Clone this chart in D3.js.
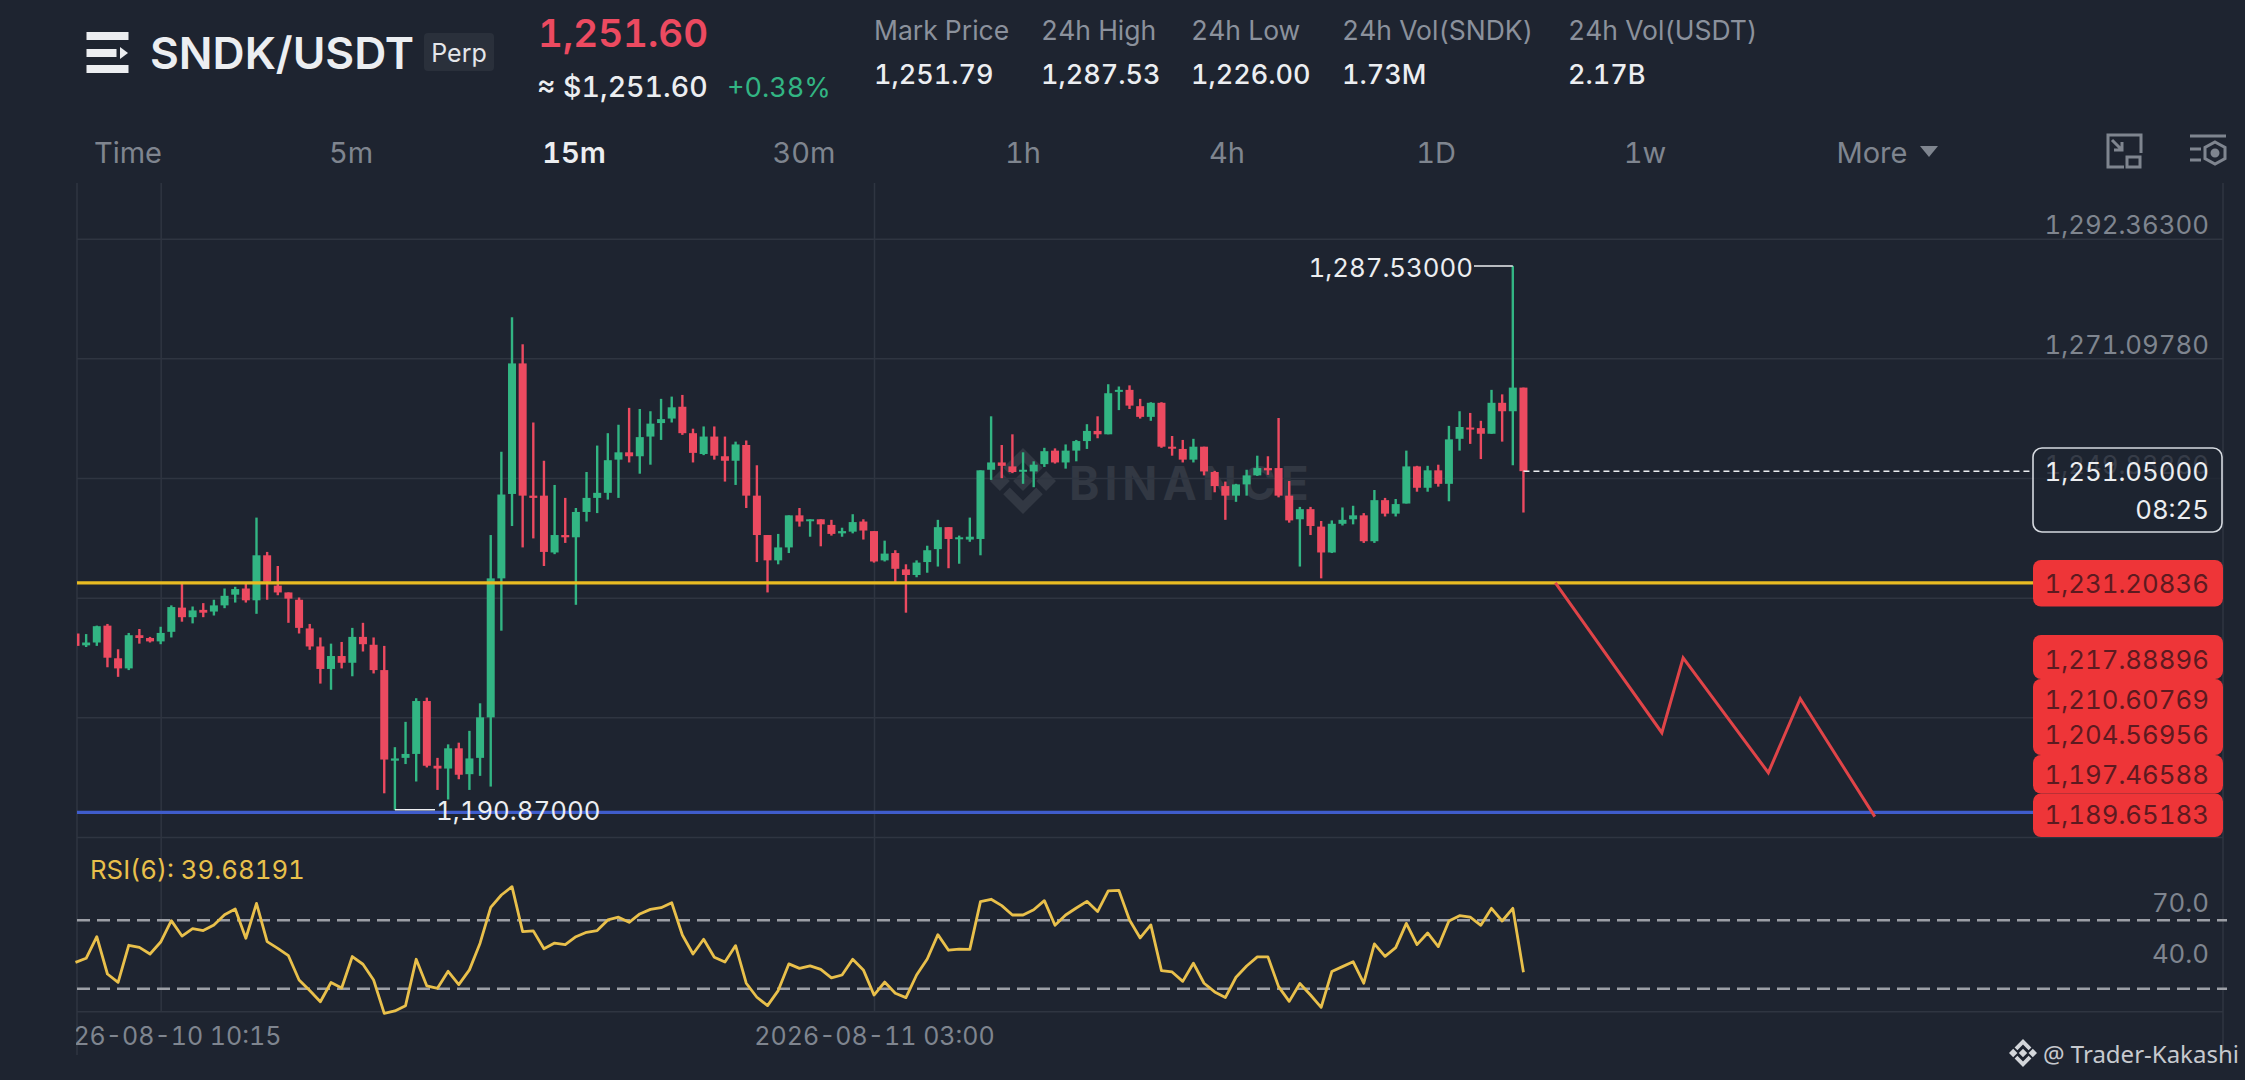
<!DOCTYPE html>
<html>
<head>
    <meta charset="UTF-8">
    <title>SNDK/USDT Perp</title>
    <style>
        html, body { margin: 0; padding: 0; background: #1e2430; }
        svg { display: block; }
        text { font-family: Inter, "Noto Sans", sans-serif; font-variant-numeric: tabular-nums; }
        .axis path.domain { display: none; }
    </style>
</head>
<body>
<script src="https://cdn.jsdelivr.net/npm/d3@7"></script>
<script>
    // 15m candles
    var opens = [
        1222.2,1220.1,1220.6,1223.6,1217.8,1216.0,1221.9,1221.4,1220.8,1222.5,
        1226.8,1225.1,1226.4,1226.1,1227.2,1229.1,1230.2,1228.1,1236.1,1230.7,
        1229.5,1228.2,1223.1,1219.9,1215.9,1218.2,1217.0,1221.6,1220.2,1215.7,
        1199.6,1200.1,1200.8,1210.2,1198.7,1198.2,1201.8,1197.2,1200.1,1207.3,
        1232.0,1247.0,1270.2,1246.7,1246.7,1236.6,1239.7,1239.3,1243.8,1246.3,
        1247.2,1253.1,1254.4,1253.7,1257.2,1259.6,1260.4,1262.5,1257.8,1254.1,
        1257.2,1253.7,1252.9,1255.7,1246.7,1239.7,1235.2,1237.5,1243.2,1242.3,
        1242.5,1241.5,1240.0,1240.3,1242.1,1240.4,1235.2,1236.5,1233.6,1232.6,
        1234.9,1237.2,1241.1,1239.0,1238.9,1239.0,1251.3,1252.6,1251.9,1251.1,
        1251.0,1252.3,1254.7,1252.6,1254.7,1256.4,1258.2,1257.6,1265.2,1265.5,
        1262.6,1260.7,1263.2,1255.4,1255.0,1253.1,1255.4,1250.9,1248.4,1246.7,
        1248.7,1250.3,1251.6,1251.6,1246.7,1242.5,1244.3,1241.2,1236.6,1241.7,
        1242.5,1243.2,1238.6,1245.9,1243.5,1245.3,1251.9,1248.1,1251.2,1248.8,
        1256.8,1258.8,1258.7,1257.7,1263.2,1261.7,1265.9
    ];
    var highs = [
        1222.2,1222.1,1223.6,1223.9,1219.4,1222.3,1223.0,1221.6,1223.4,1227.2,
        1231.1,1227.0,1227.6,1228.2,1230.2,1230.5,1231.0,1242.8,1236.7,1234.2,
        1229.5,1228.6,1223.9,1221.5,1220.4,1220.7,1223.2,1224.1,1221.5,1220.0,
        1202.0,1206.5,1210.7,1210.8,1200.1,1202.5,1202.8,1204.9,1209.8,1239.7,
        1254.5,1278.4,1273.6,1259.7,1252.9,1248.6,1246.3,1244.5,1250.9,1255.6,
        1257.8,1259.3,1262.3,1262.1,1261.7,1263.9,1264.3,1264.6,1258.6,1259.0,
        1259.0,1257.2,1256.3,1256.5,1252.1,1239.7,1239.9,1243.2,1244.5,1242.5,
        1242.5,1242.4,1241.0,1243.4,1242.5,1240.4,1238.7,1237.0,1234.5,1235.2,
        1237.8,1242.4,1241.1,1239.6,1242.8,1251.2,1260.8,1255.7,1257.6,1254.4,
        1252.8,1255.2,1255.1,1255.8,1256.6,1259.4,1260.8,1266.5,1266.1,1266.3,
        1263.9,1263.3,1263.3,1257.3,1256.6,1256.8,1255.4,1251.1,1249.2,1248.8,
        1251.3,1253.8,1253.7,1260.5,1249.3,1244.7,1244.7,1242.2,1242.3,1244.6,
        1244.9,1243.6,1247.7,1246.3,1246.1,1254.7,1252.0,1252.0,1252.2,1259.1,
        1261.7,1261.4,1260.0,1265.5,1264.7,1287.53,1265.9
    ];
    var lows = [
        1220.0,1219.8,1220.0,1216.2,1214.5,1215.7,1220.4,1220.6,1220.3,1221.5,
        1224.3,1224.0,1225.1,1225.4,1226.7,1227.7,1227.7,1225.7,1228.2,1229.0,
        1224.1,1222.2,1219.3,1213.3,1212.2,1216.0,1214.6,1219.0,1215.1,1193.8,
        1190.87,1199.0,1195.9,1198.4,1194.4,1192.7,1196.3,1194.4,1196.9,1195.0,
        1222.7,1241.3,1237.5,1239.1,1234.2,1236.3,1238.3,1227.3,1242.1,1243.6,
        1246.0,1246.3,1252.6,1250.6,1252.2,1256.6,1259.7,1257.5,1252.6,1253.9,
        1253.1,1249.2,1248.6,1244.5,1234.9,1229.5,1234.5,1236.5,1241.2,1239.4,
        1237.7,1239.6,1239.4,1240.0,1238.9,1234.8,1235.0,1231.3,1225.9,1232.2,
        1233.0,1234.1,1233.8,1234.6,1238.5,1236.1,1249.5,1249.8,1250.7,1248.8,
        1248.2,1251.8,1252.4,1251.5,1252.8,1255.0,1256.9,1257.6,1261.9,1262.1,
        1260.4,1260.0,1255.2,1253.8,1252.6,1252.6,1250.3,1247.3,1242.4,1245.6,
        1246.7,1250.2,1250.4,1246.4,1241.9,1234.1,1239.7,1232.0,1236.5,1241.4,
        1241.6,1238.3,1238.3,1243.0,1243.0,1245.3,1247.4,1247.4,1248.3,1245.7,
        1254.7,1255.9,1253.2,1257.7,1256.3,1252.1,1243.7
    ];
    var closes = [
        1220.0,1220.6,1223.5,1217.9,1216.0,1221.9,1221.4,1220.8,1222.3,1226.9,
        1225.1,1226.3,1225.9,1227.2,1228.9,1230.1,1228.1,1236.1,1231.4,1229.5,
        1228.4,1223.2,1219.9,1215.9,1218.2,1217.0,1221.6,1220.3,1215.7,1199.8,
        1200.0,1200.8,1210.2,1198.7,1198.2,1201.8,1197.1,1200.0,1207.3,1232.0,
        1246.9,1270.2,1246.7,1246.3,1236.7,1239.7,1239.3,1243.8,1246.3,1247.2,
        1253.0,1254.4,1253.7,1257.1,1259.5,1260.3,1262.4,1257.8,1254.3,1257.2,
        1253.8,1252.9,1255.8,1246.7,1239.7,1235.2,1237.5,1243.2,1242.1,1242.5,
        1241.6,1239.9,1240.4,1242.0,1240.5,1235.0,1236.4,1233.7,1232.6,1234.8,
        1237.0,1241.1,1239.0,1239.3,1239.4,1251.2,1252.6,1252.0,1250.9,1251.3,
        1252.2,1254.6,1252.6,1254.7,1256.4,1258.2,1257.6,1264.9,1265.5,1262.7,
        1260.7,1263.2,1255.4,1255.1,1253.1,1255.4,1251.0,1248.4,1246.7,1248.7,
        1250.3,1251.6,1251.2,1246.7,1242.3,1244.3,1241.3,1236.6,1241.7,1242.4,
        1243.2,1238.6,1245.9,1243.5,1245.2,1251.9,1248.1,1251.2,1248.8,1256.7,
        1258.9,1258.5,1257.7,1263.2,1261.7,1265.9,1251.05
    ];
    var rsi = [
        45.4,47.8,60.4,38.6,33.7,55.4,54.2,50.3,57.3,69.8,
        60.8,65.1,64.0,67.3,73.3,76.6,59.5,79.9,57.5,53.6,
        49.3,35.1,28.9,22.4,33.6,30.4,48.8,44.3,35.1,15.6,
        17.0,20.1,47.2,31.6,30.2,40.2,32.4,41.0,56.6,77.6,
        84.8,89.7,63.4,63.8,53.4,56.7,55.8,60.4,63.0,64.0,
        70.2,71.8,68.8,73.7,76.4,77.4,80.3,61.4,50.3,58.9,
        48.4,45.6,55.2,33.2,25.0,20.1,28.9,44.5,41.9,43.3,
        41.3,36.3,38.0,47.2,41.0,26.3,33.9,27.3,24.8,38.0,
        47.4,61.6,52.5,53.2,53.0,80.9,82.3,78.6,73.1,73.1,
        76.2,81.5,67.1,73.1,77.2,81.1,75.1,87.2,87.5,70.2,
        59.7,67.3,40.6,39.8,34.3,44.9,33.2,28.1,24.8,36.7,
        43.3,48.6,48.6,31.2,22.6,33.0,26.3,19.1,40.0,42.9,
        45.8,33.2,56.2,48.9,54.0,68.2,55.8,62.6,54.6,69.6,
        72.7,71.8,67.1,77.0,69.6,77.0,39.68
    ];

    var priceTicks = [1292.363, 1271.0978, 1249.8326, 1228.5674, 1207.3022, 1186.037];
    var timeTicks = [8, 75];
    var timeLabels = ["2026-08-10 10:15", "2026-08-11 03:00"];
    var rsiTicks = [70, 40];
    var rsiBands = [70, 30];

    // drawn levels and the hand drawn path
    var yellowLevel = 1231.20836;
    var blueLevel = 1190.43;
    var pathBars = [139, 149, 151, 159, 162, 169];
    var pathPrices = [1231.20836, 1204.56956, 1217.88896, 1197.46588, 1210.60769, 1189.65183];
    var priceTags = ["1,231.20836", "1,217.88896", "1,210.60769", "1,204.56956", "1,197.46588", "1,189.65183"];

    var highBar = 135, highPrice = 1287.53, lowBar = 30, lowPrice = 1190.87, lastBar = 136, lastPrice = 1251.05;

    var statNames = ["Mark Price", "24h High", "24h Low", "24h Vol(SNDK)", "24h Vol(USDT)"];
    var statValues = ["1,251.79", "1,287.53", "1,226.00", "1.73M", "2.17B"];
    var intervals = ["Time", "5m", "15m", "30m", "1h", "4h", "1D", "1w", "More"];

    var width = 2245, height = 1080;
    var left = 77, right = 2223, top_ = 183, frameBottom = 1055, rsiBottom = 1011.7;
    var axisFont = 25.8;

    var C = {
        bg: "#1e2430", grid: "#2f3541", up: "#32b583", down: "#ec4a60", dim: "#8b919c", axis: "#7f858f",
        white: "#eceef1", yellow: "#e8bb22", blue: "#3f5ccb", rsi: "#e9c04b", tag: "#ee3538", tagText: "#5d1a20",
        mark: "#323843", path: "#e04448"
    };

    var x = d3.scaleLinear().domain([8, 75]).range([160.67, 874]);
    var y = d3.scaleLinear().domain([1186.037, 1292.363]).range([837, 238.7]);
    var yRsi = d3.scaleLinear().domain([70, 30]).range([920.3, 988.7]);

    var svg = d3.select("body").append("svg")
        .attr("width", width)
        .attr("height", height)
        .style("background", C.bg);

    var defs = svg.append("defs");
    defs.append("clipPath").attr("id", "plot")
        .append("rect").attr("x", left).attr("y", top_).attr("width", right - left).attr("height", frameBottom - top_);

    function label(parent, str, px, py, size, color, weight, anchor) {
        return parent.append("text")
            .attr("x", px).attr("y", py)
            .attr("font-size", size)
            .attr("fill", color)
            .attr("font-weight", weight || 400)
            .attr("text-anchor", anchor || "start")
            .text(str);
    }

    // binance diamond mark, r is half its height
    function binanceLogo(parent, cx, cy, r, color) {
        var k = r / 10;
        var d = [
            "M0,-3 L3,0 L0,3 L-3,0 Z",
            "M-7,-3 L-4,0 L-7,3 L-10,0 Z",
            "M7,-3 L10,0 L7,3 L4,0 Z",
            "M0,-10 L6,-4 L4,-2 L0,-6 L-4,-2 L-6,-4 Z",
            "M0,10 L6,4 L4,2 L0,6 L-4,2 L-6,4 Z"
        ].join(" ");
        parent.append("path")
            .attr("transform", "translate(" + cx + "," + cy + ") scale(" + k + ")")
            .attr("d", d)
            .attr("fill", color);
    }

    // header
    var head = svg.append("g");
    head.selectAll("rect.bar").data([32, 49, 65]).enter().append("rect")
        .attr("x", 86.5)
        .attr("y", function(d) { return d; })
        .attr("width", function(d, i) { return i === 1 ? 30 : 42; })
        .attr("height", 8)
        .attr("fill", C.white);
    head.append("path").attr("d", "M120,47 L128,53 L120,59 Z").attr("fill", C.white);

    label(head, "SNDK/USDT", 150, 69, 44.4, C.white, 600);
    head.append("rect").attr("x", 424).attr("y", 33).attr("width", 70).attr("height", 38).attr("rx", 4).attr("fill", "#2a303b");
    label(head, "Perp", 459, 62, 25, "#e4e6ea", 400, "middle");
    label(head, "1,251.60", 538, 47, 38.5, C.down, 600);
    label(head, "≈ $1,251.60", 537, 97, 28.5, C.white, 500);
    label(head, "+0.38%", 727, 97, 27, C.up, 400);

    var statX = [874, 1041, 1191, 1342, 1568];
    head.selectAll("text.name").data(statNames).enter().append("text")
        .attr("class", "name")
        .attr("x", function(d, i) { return statX[i]; })
        .attr("y", 40)
        .attr("font-size", 26.5)
        .attr("fill", C.dim)
        .text(function(d) { return d; });
    head.selectAll("text.val").data(statValues).enter().append("text")
        .attr("class", "val")
        .attr("x", function(d, i) { return statX[i]; })
        .attr("y", 84)
        .attr("font-size", 27)
        .attr("font-weight", 500)
        .attr("fill", C.white)
        .text(function(d) { return d; });

    var intervalX = [128, 351, 574, 804, 1023, 1227, 1436, 1645, 1872];
    head.selectAll("text.iv").data(intervals).enter().append("text")
        .attr("class", "iv")
        .attr("x", function(d, i) { return intervalX[i]; })
        .attr("y", 163)
        .attr("text-anchor", "middle")
        .attr("font-size", 29)
        .attr("font-weight", function(d) { return d === "15m" ? 600 : 400; })
        .attr("fill", function(d) { return d === "15m" ? C.white : C.axis; })
        .text(function(d) { return d; });
    head.append("path").attr("d", "M1920,146 L1938,146 L1929,157 Z").attr("fill", C.axis);

    // toolbar icons
    var icons = head.append("g").attr("fill", "none").attr("stroke", C.axis).attr("stroke-width", 3);
    icons.append("path").attr("d", "M2124,167 L2108,167 L2108,135 L2141,135 L2141,153");
    icons.append("rect").attr("x", 2127).attr("y", 157).attr("width", 13).attr("height", 10);
    icons.append("path").attr("d", "M2112,140 L2122,150 M2122,142 L2122,150 L2114,150");
    icons.append("path").attr("d", "M2190,136 L2226,136 M2190,149 L2201,149 M2190,160 L2201,160");
    icons.append("path").attr("d", "M2215,142 L2225,147.5 L2225,158.5 L2215,164 L2205,158.5 L2205,147.5 Z");
    icons.append("circle").attr("cx", 2215).attr("cy", 153).attr("r", 3).attr("fill", C.axis);

    // watermark sits under everything in the plot
    binanceLogo(svg, 1023, 481, 33, C.mark);
    label(svg, "BINANCE", 1069, 500, 46, C.mark, 700).attr("letter-spacing", 5);

    // frame
    svg.selectAll("line.frame").data([left, right]).enter().append("line")
        .attr("class", "frame")
        .attr("x1", function(d) { return d; }).attr("x2", function(d) { return d; })
        .attr("y1", top_).attr("y2", frameBottom)
        .attr("stroke", C.grid).attr("stroke-width", 1.5);
    svg.append("line")
        .attr("x1", left).attr("x2", right).attr("y1", rsiBottom).attr("y2", rsiBottom)
        .attr("stroke", C.grid).attr("stroke-width", 1.5);

    // price axis, labels sit just above their grid line
    var yAxis = d3.axisRight(y)
        .tickValues(priceTicks)
        .tickSize(-(right - left))
        .tickFormat(d3.format(",.5f"));
    var yG = svg.append("g")
        .attr("class", "y axis")
        .attr("transform", "translate(" + right + ",0)")
        .call(yAxis);
    yG.selectAll(".tick line").attr("stroke", C.grid).attr("stroke-width", 1.5);
    yG.selectAll(".tick text")
        .attr("x", -14).attr("dy", -5)
        .attr("text-anchor", "end")
        .attr("font-size", axisFont)
        .attr("fill", C.axis);
    // lower three labels are fully covered by the tags in the picture
    yG.selectAll(".tick text").filter(function(d) { return d < 1240; }).remove();

    // time axis, first label is cut by the frame
    defs.append("clipPath").attr("id", "timeClip")
        .append("rect").attr("x", left - 1).attr("y", 0).attr("width", right - left).attr("height", height);
    var xAxis = d3.axisBottom(x)
        .tickValues(timeTicks)
        .tickSize(-(rsiBottom - top_))
        .tickFormat(function(d, i) { return timeLabels[i]; });
    var xG = svg.append("g")
        .attr("class", "x axis")
        .attr("clip-path", "url(#timeClip)")
        .append("g")
        .attr("transform", "translate(0," + rsiBottom + ")")
        .call(xAxis);
    xG.selectAll(".tick line").attr("stroke", C.grid).attr("stroke-width", 1.5);
    xG.selectAll(".tick text")
        .attr("y", 33).attr("dy", 0)
        .attr("font-size", 25)
        .attr("fill", C.axis);

    // candles
    var candles = d3.range(opens.length).map(function(i) {
        return {i: i, o: opens[i], h: highs[i], l: lows[i], c: closes[i]};
    });
    var plot = svg.append("g").attr("clip-path", "url(#plot)");
    var bars = plot.selectAll("g.candle").data(candles).enter().append("g").attr("class", "candle");
    function candleColor(d) { return d.c >= d.o ? C.up : C.down; }
    bars.append("line")
        .attr("x1", function(d) { return x(d.i); })
        .attr("x2", function(d) { return x(d.i); })
        .attr("y1", function(d) { return y(d.h); })
        .attr("y2", function(d) { return y(d.l); })
        .attr("stroke", candleColor)
        .attr("stroke-width", 2.4);
    bars.append("rect")
        .attr("x", function(d) { return x(d.i) - 4; })
        .attr("y", function(d) { return y(Math.max(d.o, d.c)); })
        .attr("width", 8)
        .attr("height", function(d) { return Math.max(2, Math.abs(y(d.o) - y(d.c))); })
        .attr("fill", candleColor);

    // levels
    var tagLeft = 2033;
    svg.append("line")
        .attr("x1", left).attr("x2", tagLeft).attr("y1", y(yellowLevel)).attr("y2", y(yellowLevel))
        .attr("stroke", C.yellow).attr("stroke-width", 3.2);
    svg.append("line")
        .attr("x1", left).attr("x2", tagLeft).attr("y1", y(blueLevel)).attr("y2", y(blueLevel))
        .attr("stroke", C.blue).attr("stroke-width", 3.2);

    var pathLine = d3.line()
        .x(function(d) { return x(d[0]); })
        .y(function(d) { return y(d[1]); });
    svg.append("path")
        .datum(d3.zip(pathBars, pathPrices))
        .attr("d", pathLine)
        .attr("fill", "none")
        .attr("stroke", C.path)
        .attr("stroke-width", 3);

    // high and low callouts
    svg.append("path")
        .attr("d", "M" + x(highBar) + "," + y(highPrice) + " H1474")
        .attr("fill", "none").attr("stroke", C.white).attr("stroke-width", 1.5);
    label(svg, "1,287.53000", 1473, 277, axisFont, C.white, 400, "end");
    svg.append("path")
        .attr("d", "M" + x(lowBar) + "," + y(lowPrice) + " H435")
        .attr("fill", "none").attr("stroke", C.white).attr("stroke-width", 1.5);
    label(svg, "1,190.87000", 436, 820, axisFont, C.white, 400);

    // current price, box is see-through so the tick label behind shows faintly
    svg.append("line")
        .attr("x1", x(lastBar)).attr("x2", tagLeft).attr("y1", y(lastPrice)).attr("y2", y(lastPrice))
        .attr("stroke", C.white).attr("stroke-width", 1.5).attr("stroke-dasharray", "6,4");
    svg.append("rect")
        .attr("x", tagLeft).attr("y", 448).attr("width", 189).attr("height", 84).attr("rx", 9)
        .attr("fill", C.bg).attr("fill-opacity", 0.75)
        .attr("stroke", "#d5d9df").attr("stroke-width", 1.6);
    label(svg, "1,251.05000", 2209, 481, axisFont, C.white, 400, "end");
    label(svg, "08:25", 2209, 519, axisFont, C.white, 400, "end");

    // red price tags
    var tagBoxes = [[560, 606.5], [635, 679], [679, 755], [755, 793.5], [793.5, 837]];
    svg.selectAll("rect.tag").data(tagBoxes).enter().append("rect")
        .attr("class", "tag")
        .attr("x", tagLeft).attr("y", function(d) { return d[0]; })
        .attr("width", 190).attr("height", function(d) { return d[1] - d[0]; })
        .attr("rx", 8)
        .attr("fill", C.tag);
    var tagBaselines = [593, 669, 709, 744, 784, 824];
    svg.selectAll("text.tagText").data(priceTags).enter().append("text")
        .attr("class", "tagText")
        .attr("x", 2209)
        .attr("y", function(d, i) { return tagBaselines[i]; })
        .attr("text-anchor", "end")
        .attr("font-size", axisFont)
        .attr("fill", C.tagText)
        .text(function(d) { return d; });

    // RSI pane
    label(svg, "RSI(6): 39.68191", 90, 879, 25.8, C.rsi, 400);
    svg.selectAll("line.band").data(rsiBands).enter().append("line")
        .attr("class", "band")
        .attr("x1", left).attr("x2", right + 4)
        .attr("y1", function(d) { return yRsi(d); })
        .attr("y2", function(d) { return yRsi(d); })
        .attr("stroke", "#9c9fa6").attr("stroke-width", 2.6).attr("stroke-dasharray", "13,7");
    var rAxis = d3.axisRight(yRsi)
        .tickValues(rsiTicks)
        .tickSize(0)
        .tickFormat(d3.format(".1f"));
    var rG = svg.append("g")
        .attr("class", "r axis")
        .attr("transform", "translate(" + right + ",0)")
        .call(rAxis);
    rG.selectAll(".tick text")
        .attr("x", -14).attr("dy", -9)
        .attr("text-anchor", "end")
        .attr("font-size", axisFont)
        .attr("fill", C.axis);

    var rsiLine = d3.line()
        .x(function(d, i) { return x(i); })
        .y(function(d) { return yRsi(d); });
    svg.append("path")
        .datum(rsi)
        .attr("d", rsiLine)
        .attr("fill", "none")
        .attr("stroke", C.rsi)
        .attr("stroke-width", 2.8)
        .attr("stroke-linejoin", "round");

    // credit
    binanceLogo(svg, 2023, 1053, 14, "#d3d6da");
    svg.append("text")
        .attr("x", 2043).attr("y", 1063)
        .attr("font-size", 24)
        .attr("fill", "#c6c9ce")
        .style("font-family", "'Noto Sans', sans-serif")
        .text("@ Trader-Kakashi");
</script>
</body>
</html>
